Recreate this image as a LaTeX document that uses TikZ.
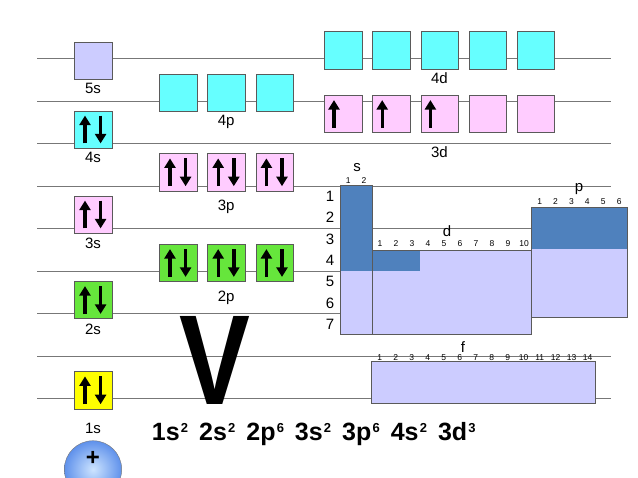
\documentclass[tikz,border=0pt]{standalone}
\usepackage{fontspec}
\setmainfont{Liberation Sans}
\usetikzlibrary{arrows.meta,positioning,calc}

\definecolor{lav}{HTML}{CCCCFF}
\definecolor{aqua}{HTML}{66FFFF}
\definecolor{rose}{HTML}{FFCCFF}
\definecolor{lime}{HTML}{66E63C}
\definecolor{sun}{HTML}{FFFF00}
\definecolor{blockblue}{HTML}{4F81BD}
\definecolor{boxgray}{HTML}{5A5A5A}
\definecolor{linegray}{HTML}{777777}
\definecolor{nucin}{RGB}{205,228,255}
\definecolor{nucout}{RGB}{95,145,235}

\newcommand{\shellsup}[1]{\hspace{1.2pt}\raisebox{8.5pt}{\fontsize{13}{13}\selectfont #1}\hspace{11pt}}

\begin{document}
\begin{tikzpicture}[x=1pt, y=-1pt,
  orb/.style={rectangle, draw=boxgray, fill=#1, minimum size=37.4pt, inner sep=0pt},
  spin/.style={-{Triangle[length=9.5pt,width=11pt]}, line width=3.4pt, black},
  lvl/.style={draw=linegray, line width=0.9pt},
  lbl/.style={font=\fontsize{15}{15}\selectfont, inner sep=0pt},
  num/.style={font=\fontsize{8.5}{8.5}\selectfont, inner sep=0pt},
  blk/.style={draw=boxgray, line width=0.8pt}
]
\useasboundingbox (0,0) rectangle (638,478);

% energy levels
\foreach \y in {58,101,143,186,228,271,313,356,398}
  \draw[lvl] (37,\y) -- (611,\y);

% s orbitals
\node[orb=lav]  (s5) at (93,60.8)  {};
\node[orb=aqua] (s4) at (93,129.5) {};
\node[orb=rose] (s3) at (93,214.5) {};
\node[orb=lime] (s2) at (93,300)   {};
\node[orb=sun]  (s1) at (93,390.3) {};

% p orbitals
\node[orb=aqua] (p4a) at (178,92.7) {};
\node[orb=aqua, right=10.4pt of p4a] (p4b) {};
\node[orb=aqua, right=10.4pt of p4b] (p4c) {};
\node[orb=rose] (p3a) at (178,172.3) {};
\node[orb=rose, right=10.4pt of p3a] (p3b) {};
\node[orb=rose, right=10.4pt of p3b] (p3c) {};
\node[orb=lime] (p2a) at (178,263) {};
\node[orb=lime, right=10.4pt of p2a] (p2b) {};
\node[orb=lime, right=10.4pt of p2b] (p2c) {};

% d orbitals
\node[orb=aqua] (d4a) at (343,50.2) {};
\node[orb=rose] (d3a) at (343,114)  {};
\foreach \a/\b in {a/b,b/c,c/d,d/e} {
  \node[orb=aqua, right=10.4pt of d4\a] (d4\b) {};
  \node[orb=rose, right=10.4pt of d3\a] (d3\b) {};
}

% labels
\foreach \n/\t/\g in {s5/5s/3.4,s4/4s/3.5,s3/3s/4.5,s2/2s/4.5,s1/1s/14,
                      p4b/4p/3,p3b/3p/8.5,p2b/2p/8.5,d4c/4d/3,d3c/3d/14}
  \node[lbl, below=\g pt of \n] {\t};

% electrons
\foreach \n in {s4,s3,s2,s1,p3a,p3b,p3c,p2a,p2b,p2c} {
  \draw[spin] ($(\n.south)+(-8,-5)$) -- ($(\n.north)+(-8,5)$);
  \draw[spin] ($(\n.north)+(7.6,5)$) -- ($(\n.south)+(7.6,-5)$);
}
\foreach \n in {d3a,d3b,d3c}
  \draw[spin] ($(\n.south)+(-9,-5)$) -- ($(\n.north)+(-9,5)$);

% filling table
\fill[blockblue] (340.3,185.7) rectangle (372,271);
\fill[lav] (340.3,271) rectangle (372,334.3);
\draw[blk] (340.3,185.7) rectangle (372,334.3);
\fill[lav] (372,250) rectangle (531.7,334.3);
\fill[blockblue] (372,250) rectangle (419.7,271);
\draw[blk] (372,250) rectangle (531.7,334.3);
\fill[lav] (531.7,207.3) rectangle (627,317);
\fill[blockblue] (531.7,207.3) rectangle (627,249.3);
\draw[blk] (531.7,207.3) rectangle (627,317);
\filldraw[blk, fill=lav] (371.7,361) rectangle (595.7,403.3);

\foreach \r in {1,...,7}
  \node[lbl] at (330,{185.7+21.3*(\r-0.5)}) {\r};
\node[lbl] (shead) at (357,168) {s};
\node[lbl] (dhead) at (447,231) {d};
\node[lbl] (phead) at (579,189) {p};
\node[lbl] (fhead) at (463,347) {f};
\foreach \i in {1,2}
  \node[num] at ({340.3+15.85*(\i-0.5)},180.7) {\i};
\foreach \i in {1,...,10}
  \node[num] at ({372+16*(\i-0.5)},244) {\i};
\foreach \i in {1,...,6}
  \node[num] at ({531.7+15.9*(\i-0.5)},201.7) {\i};
\foreach \i in {1,...,14}
  \node[num] at ({371.7+16*(\i-0.5)},357.7) {\i};

% element and configuration
\node[inner sep=0pt, anchor=base, font=\fontsize{128}{128}\selectfont\bfseries]
  (elem) at (215,405) {\scalebox{0.83}[1]{V}};
\node[inner sep=0pt, anchor=base west, font=\fontsize{25}{25}\selectfont\bfseries]
  (config) at (151.7,441)
  {1s\shellsup{2}2s\shellsup{2}2p\shellsup{6}3s\shellsup{2}3p\shellsup{6}4s\shellsup{2}3d\shellsup{3}};

% nucleus
\node[circle, draw=linegray, shading=radial, inner color=nucin, outer color=nucout,
  minimum size=57.4pt, inner sep=0pt] (nuc) at (93,469.4) {};
\node[inner sep=0pt, font=\fontsize{24}{24}\selectfont\bfseries]
  (plus) at ($(nuc.center)+(0,-11.4)$) {+};
\end{tikzpicture}
\end{document}
